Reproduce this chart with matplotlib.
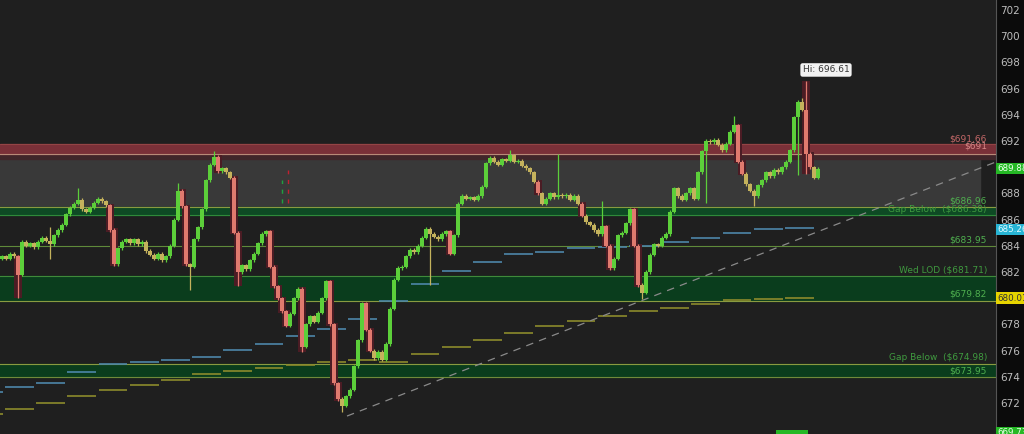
import numpy as np
import matplotlib
matplotlib.use("Agg")
import matplotlib.pyplot as plt
import matplotlib.transforms as mtransforms

# closing prices, one candle every ~4 px
closes = [683.2, 683.0, 683.4, 683.2, 681.8, 684.3, 684.0, 684.2, 683.9, 684.3,
          684.6, 684.4, 684.1, 684.8, 685.2, 685.6, 686.4, 686.9, 687.2, 687.5,
          686.8, 686.6, 686.9, 687.3, 687.6, 687.4, 687.1, 685.2, 682.6, 683.8,
          684.3, 684.5, 684.2, 684.5, 684.1, 684.3, 683.6, 683.3, 683.0, 683.4,
          682.9, 683.2, 684.0, 686.0, 688.2, 687.0, 682.6, 682.4, 684.5, 685.4,
          686.8, 689.0, 690.2, 690.8, 689.7, 689.9, 689.6, 689.2, 685.0, 682.0,
          682.5, 682.2, 682.9, 683.4, 684.2, 684.9, 685.1, 682.4, 680.9, 680.0,
          679.0, 677.9, 678.8, 680.0, 680.7, 676.3, 678.0, 678.6, 678.2, 678.9,
          680.0, 681.3, 678.0, 673.5, 672.3, 671.8, 672.5, 673.0, 674.8, 676.8,
          679.6, 677.6, 676.0, 675.4, 675.9, 675.3, 676.5, 679.2, 681.4, 682.3,
          682.4, 683.2, 683.7, 683.5, 684.0, 684.6, 685.3, 684.9, 684.7, 684.5,
          684.9, 685.1, 683.4, 684.8, 687.2, 687.8, 687.6, 687.7, 687.5, 687.8,
          688.5, 690.3, 690.7, 690.4, 690.2, 690.6, 690.5, 690.9, 690.4, 690.5,
          690.1, 689.9, 689.6, 688.9, 688.0, 687.2, 687.6, 688.0, 687.7, 687.9,
          687.8, 687.9, 687.5, 687.8, 687.2, 686.3, 685.8, 685.6, 685.2, 684.9,
          685.5, 684.0, 682.3, 683.0, 684.8, 685.0, 685.7, 686.8, 684.0, 681.0,
          680.4, 682.0, 683.3, 684.1, 684.0, 684.6, 684.9, 686.6, 688.4, 687.8,
          687.5, 688.0, 688.4, 687.6, 689.6, 691.2, 692.0, 691.9, 692.1, 691.7,
          691.3, 691.8, 692.7, 693.2, 690.4, 689.5, 688.7, 688.2, 687.8, 688.6,
          689.0, 689.6, 689.3, 689.8, 689.6, 690.0, 690.4, 691.3, 693.8, 695.0,
          694.4, 691.0, 690.0, 689.2, 689.88]
first_open = 683.0
high_spikes = {19: 688.4, 44: 688.8, 53: 691.2, 127: 691.3, 139: 691.0,
               150: 687.4, 183: 693.9, 200: 695.3, 201: 696.61, 12: 685.4}
low_spikes = {4: 680.0, 12: 683.0, 47: 680.6, 85: 671.3, 107: 681.0,
              160: 679.9, 176: 687.3, 188: 687.0, 199: 689.4, 201: 689.5,
              59: 680.9, 75: 675.9}

# stepped study levels (30 min segments)
yellow_levels = [671.16, 671.54, 672.00, 672.53, 672.99, 673.37, 673.76, 674.21,
                 674.44, 674.67, 674.90, 675.10, 675.30, 675.13, 675.74, 676.27,
                 676.81, 677.34, 677.88, 678.26, 678.64, 679.02, 679.25, 679.56,
                 679.86, 679.94, 680.01]
blue_levels = [672.84, 673.22, 673.53, 674.37, 674.98, 675.13, 675.28, 675.51,
               676.05, 676.50, 677.11, 677.65, 678.41, 679.79, 681.08, 682.08,
               682.76, 683.37, 683.53, 683.83, 683.91, 683.98, 684.29, 684.60,
               684.98, 685.28, 685.36]

level_labels = [("$691.66", 691.66, "#c46868"), ("$691", 691.12, "#d88888"),
                ("$686.96", 686.96, "#4fb04f"), ("Gap Below  ($686.38)", 686.28, "#3f9a3f"),
                ("$683.95", 683.95, "#4fb04f"), ("Wed LOD ($681.71)", 681.71, "#3f9a3f"),
                ("$679.82", 679.82, "#4fb04f"), ("Gap Below  ($674.98)", 674.98, "#3f9a3f"),
                ("$673.95", 673.95, "#4fb04f")]
tags = [("689.88", 689.88, "#25b825", "#eaffea"), ("685.26", 685.26, "#27b4d4", "#e0fbff"),
        ("680.01", 680.01, "#e6d400", "#333333"), ("669.73", 669.73, "#25b825", "#eaffea")]
trend_x = [86.25, 248.5]
trend_y = [671.0, 690.4]

n = len(closes)
idx = np.arange(n)
c = np.array(closes)
o = np.concatenate(([first_open], c[:-1]))
hi = np.maximum(o, c) + 0.12
lo = np.minimum(o, c) - 0.12
for k, v in high_spikes.items():
    hi[k] = v
for k, v in low_spikes.items():
    lo[k] = v

fig = plt.figure(figsize=(10.24, 4.34), dpi=100, facecolor="#0b0b0b")
ax = fig.add_axes([0, 0, 996 / 1024, 1])
ax.set_facecolor("#1f1f1f")
ax.set_xlim(-0.5, 248.5)
ax.set_ylim(669.63, 702.76)

# zones
ax.axhspan(686.96, 690.6, xmax=0.984, color="#393939", zorder=0)
ax.axhspan(690.6, 691.0, color="#40262a", zorder=0)
ax.axhspan(691.0, 691.75, color="#7a3038", zorder=0)
ax.axhline(691.0, color="#b88a78", lw=0.8, zorder=1)
ax.axhline(691.75, color="#9a4848", lw=0.6, zorder=1)
ax.axhspan(686.38, 686.96, color="#0e4a24", zorder=0)
ax.axhspan(679.82, 681.71, color="#0a3d1d", zorder=0)
ax.axhspan(673.95, 674.98, color="#0a3d1d", zorder=0)
for lv, col in [(686.96, "#8a9a40"), (686.38, "#2f8a3a"), (683.95, "#5f8a3a"),
                (681.71, "#3f8a3a"), (679.82, "#8a9a40"), (674.98, "#8a9a40"),
                (673.95, "#6f8a3a")]:
    ax.axhline(lv, color=col, lw=0.8, zorder=1)

# stepped levels
seg_len, seg0 = 7.8, 0.75
for k, (yl, bl) in enumerate(zip(yellow_levels, blue_levels)):
    x0 = max(-0.5, seg0 + (k - 1) * seg_len)
    x1 = seg0 + k * seg_len - 0.6
    ax.hlines(yl, x0, x1, color="#8c8a2c", lw=1.2, zorder=2)
    ax.hlines(bl, x0, x1, color="#4d86a8", lw=1.2, zorder=2)

# trend line
ax.plot(trend_x, trend_y, color="#8a8a8a", lw=0.9, ls=(0, (6, 5)), zorder=2)

# little markers near x~290
ax.vlines(71.5, 687.3, 689.8, color="#c02030", lw=1, ls=(0, (3, 4)), zorder=3)
ax.vlines(70.0, 687.3, 689.0, color="#20a040", lw=1, ls=(0, (3, 4)), zorder=3)

# candles
drop = o - c
big = drop >= 0.8
ax.bar(idx[big], (hi - lo)[big], bottom=lo[big], width=2.0, color="#4b1c24", zorder=2.5)
cols = np.where(c >= o, "#5ccf3a", np.where(big, "#e07a6e", "#c4b25c"))
ax.vlines(idx, lo, hi, colors=cols, lw=0.9, zorder=3)
body_h = np.where(np.abs(c - o) < 0.1, 0.1, c - o)
ax.bar(idx, body_h, bottom=o, width=0.85, color=cols, zorder=4)

# labels
tr = mtransforms.blended_transform_factory(ax.transAxes, ax.transData)
for txt, lv, col in level_labels:
    ax.text(987 / 996, lv + 0.12, txt, transform=tr, ha="right", va="bottom",
            fontsize=6.5, color=col, zorder=6)

ax.text(206.0, 697.42, "Hi: 696.61", ha="center", va="center", fontsize=6.5, color="#333333",
        bbox=dict(boxstyle="round,pad=0.25", fc="#f2f2f2", ec="none"), zorder=7)

# axis
ax.yaxis.tick_right()
ax.set_yticks(np.arange(672, 703, 2))
ax.tick_params(axis="y", length=0, pad=3, labelsize=7.5, labelcolor="#bdbdbd")
ax.set_xticks([])
for s in ["top", "left", "bottom"]:
    ax.spines[s].set_visible(False)
ax.spines["right"].set_color("#555555")
ax.spines["right"].set_linewidth(0.8)

for txt, lv, bg, fg in tags:
    ax.text(1.0015, lv, txt, transform=tr, ha="left", va="center", fontsize=6.3, color=fg,
            bbox=dict(boxstyle="square,pad=0.12", fc=bg, ec="none"), zorder=8, clip_on=False)

# time box at bottom
ax.bar([197.5], [0.3], bottom=669.63, width=8, color="#25b825", zorder=8)

fig.savefig("out.png", dpi=100, facecolor=fig.get_facecolor())
